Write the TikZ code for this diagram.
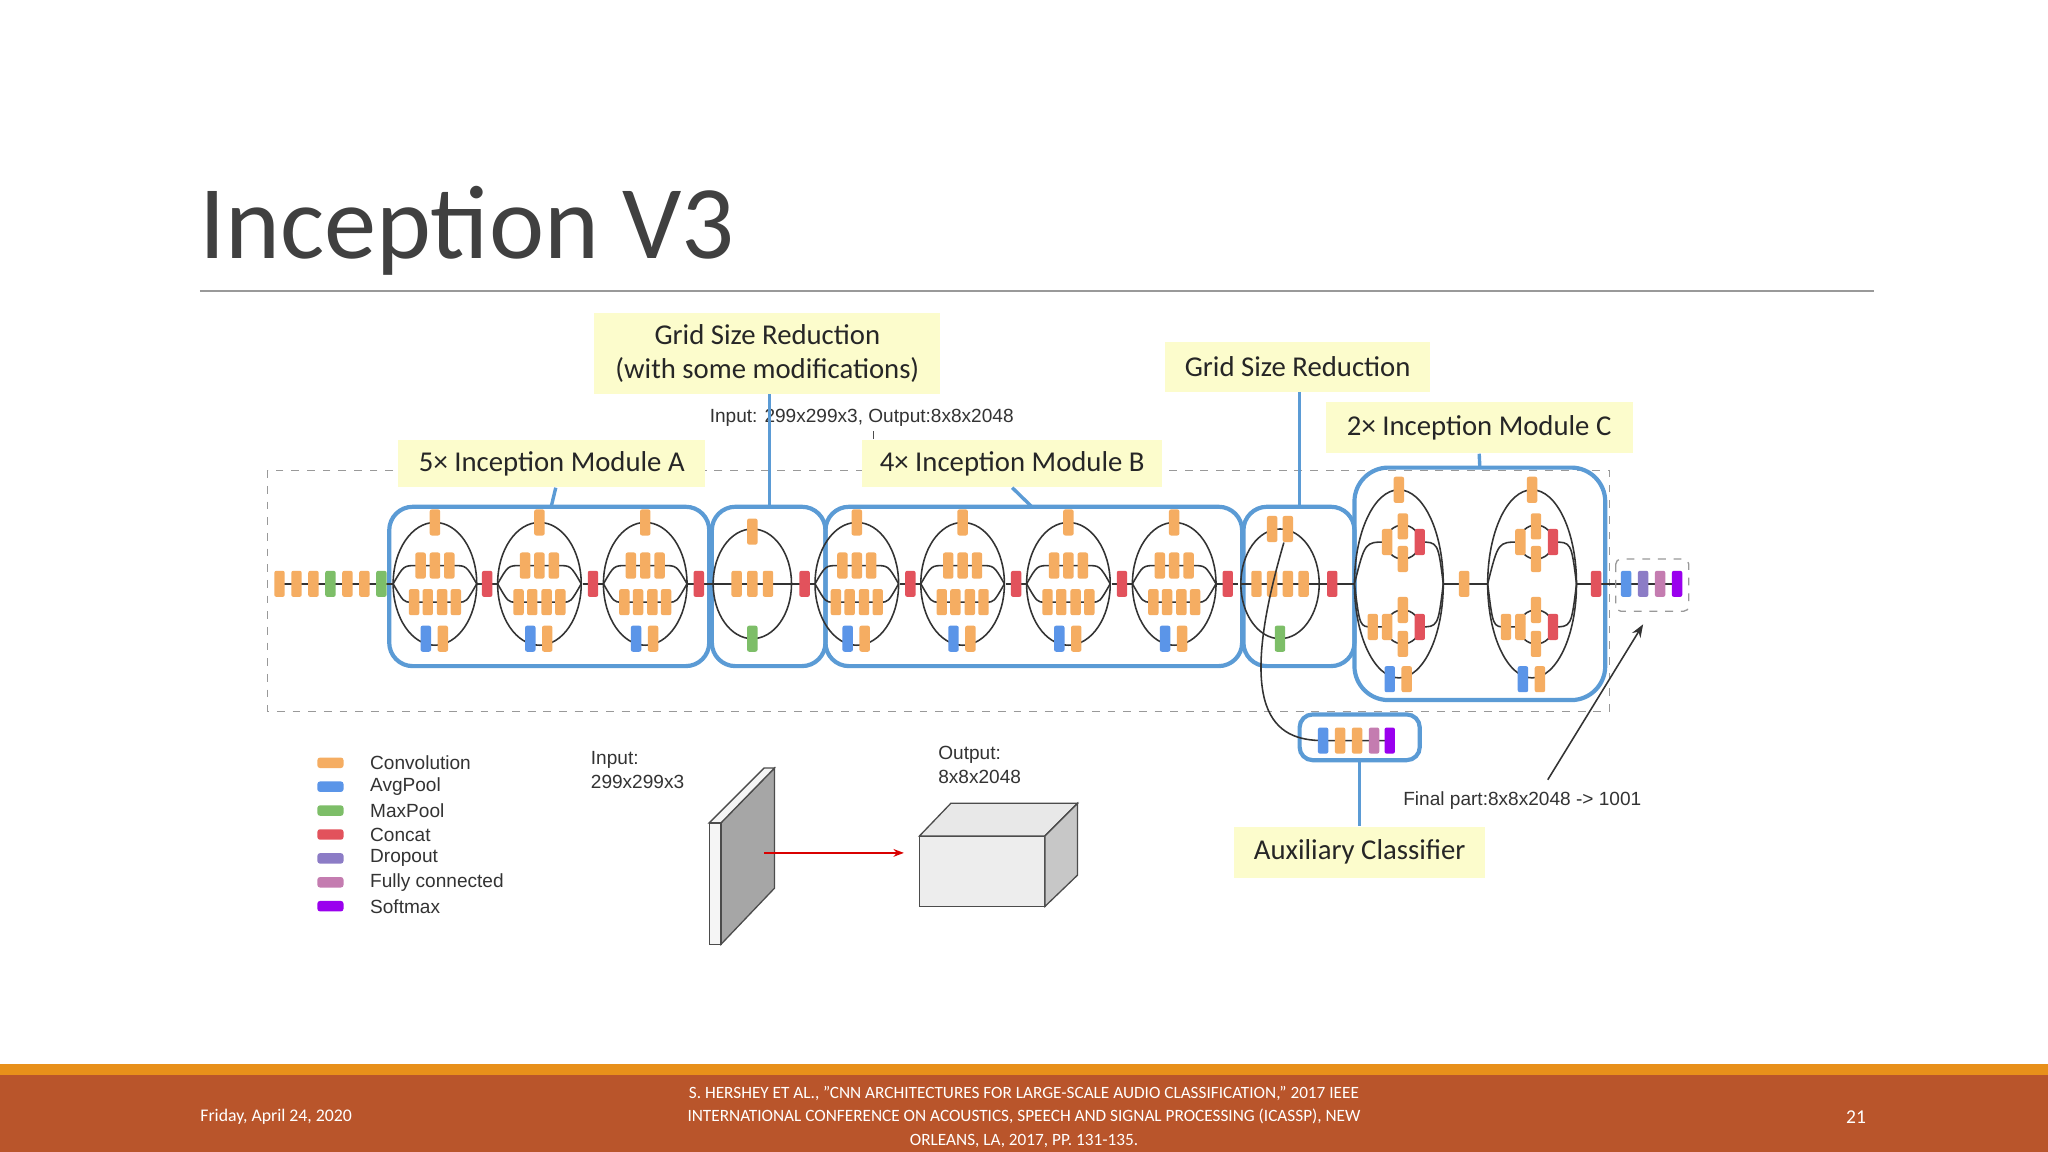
\documentclass[tikz,border=0pt]{standalone}
\usepackage{fontspec}
\setmainfont{Carlito}
\newfontfamily\arial{Liberation Sans}
\usetikzlibrary{arrows.meta}
\definecolor{cor}{HTML}{F5AD62}
\definecolor{cbl}{HTML}{5B95E8}
\definecolor{cgr}{HTML}{7DBE68}
\definecolor{crd}{HTML}{E2525C}
\definecolor{cdo}{HTML}{8C7CC6}
\definecolor{cfc}{HTML}{C47CB0}
\definecolor{csm}{HTML}{9A00EE}
\definecolor{mblue}{HTML}{5B9BD5}
\definecolor{ylab}{HTML}{FCFCCC}
\definecolor{ttl}{HTML}{404040}
\definecolor{fora}{HTML}{E8901A}
\definecolor{fred}{HTML}{B9552B}
\newcounter{bk}
\newcommand\B[3]{\stepcounter{bk}\node[blk,fill=#1] (b\arabic{bk}) at (#2,#3) {};}
\tikzset{
 blk/.style={minimum width=4pt,minimum height=10pt,inner sep=0pt,rounded corners=0.8pt,draw=none},
 wire/.style={draw=black!80,line width=0.6pt},
 mbox/.style={draw=mblue,line width=1.6pt,rounded corners=9pt},
 ylabel/.style={fill=ylab,inner sep=0pt,font=\fontsize{11}{13}\selectfont,align=center,text=black!85},
 conn/.style={draw=mblue,line width=1.3pt},
 small/.style={font=\arial\fontsize{7.3}{9}\selectfont,text=black!80,align=left,inner sep=0pt},
}
% Module A/B inception
\newcommand\ModA[1]{%
 \draw[wire] (#1,447) ellipse [x radius=16pt,y radius=23.5pt];
 \draw[wire] (#1-32,447) .. controls (#1-24,433) .. (#1-14,433) -- (#1+14,433) .. controls (#1+24,433) .. (#1+32,447);
 \draw[wire] (#1-32,447) .. controls (#1-24,461) .. (#1-18,461) -- (#1+18,461) .. controls (#1+24,461) .. (#1+32,447);
 \B{cor}{#1}{400}
 \B{cor}{#1-11}{433}\B{cor}{#1}{433}\B{cor}{#1+11}{433}
 \B{cor}{#1-16}{461}\B{cor}{#1-5.5}{461}\B{cor}{#1+5.5}{461}\B{cor}{#1+16}{461}
 \B{cbl}{#1-7}{489}\B{cor}{#1+6}{489}}
% Module C inception
\newcommand\ModC[1]{%
 \draw[wire] (#1,447) ellipse [x radius=17pt,y radius=36pt];
 \draw[wire] (#1+3,415) circle [radius=6.5pt];
 \draw[wire] (#1+3,480) circle [radius=6.5pt];
 \draw[wire] (#1-34,447) .. controls (#1-26,415) .. (#1-10,415);
 \draw[wire] (#1+16,415) .. controls (#1+30,415) .. (#1+34,447);
 \draw[wire] (#1-34,447) .. controls (#1-30,480) .. (#1-20,480) -- (#1-10,480);
 \draw[wire] (#1+16,480) .. controls (#1+30,480) .. (#1+34,447);
 \B{cor}{#1}{375}
 \B{cor}{#1+3}{403}\B{cor}{#1-9}{415}\B{cor}{#1+3}{428}\B{crd}{#1+16}{415}
 \B{cor}{#1+3}{467}\B{cor}{#1-9}{480}\B{cor}{#1-20}{480}\B{cor}{#1+3}{493}\B{crd}{#1+16}{480}
 \B{cbl}{#1-7}{520}\B{cor}{#1+6}{520}}
\begin{document}
\begin{tikzpicture}[x=0.5pt,y=-0.5pt]
\useasboundingbox (0,0) rectangle (1568,882);
\fill[white] (0,0) rectangle (1568,882);
% title
\node[anchor=base west,inner sep=0pt,text=ttl,font=\fontsize{40}{44}\selectfont] (title) at (152,198) {Inception V3};
\draw[black!40,line width=0.6pt] (153,223) -- (1435,223);
% footer
\fill[fora] (0,815) rectangle (1568,823);
\fill[fred] (0,823) rectangle (1568,882);
\node[anchor=west,inner sep=0pt,text=white,font=\fontsize{6.8}{8}\selectfont] (date) at (153,855) {Friday, April 24, 2020};
\node[inner sep=0pt,text=white,align=center,font=\fontsize{6.6}{9}\selectfont] (cite) at (784,855) {S. HERSHEY ET AL., "CNN ARCHITECTURES FOR LARGE-SCALE AUDIO CLASSIFICATION,” 2017 IEEE\\INTERNATIONAL CONFERENCE ON ACOUSTICS, SPEECH AND SIGNAL PROCESSING (ICASSP), NEW\\ORLEANS, LA, 2017, PP. 131-135.};
\node[inner sep=0pt,text=white,font=\fontsize{7.5}{9}\selectfont] (pg) at (1421,855) {21};
% dashed outer
\draw[black!40,dashed,line width=0.5pt] (205,360) rectangle (1232,545);
% labels
\node[ylabel,minimum width=132.5pt,minimum height=31pt] (lgsr1) at (587.5,271) {Grid Size Reduction\\(with some modifications)};
\node[ylabel,minimum width=101.5pt,minimum height=19pt] (lgsr2) at (993.5,281) {Grid Size Reduction};
\node[ylabel,minimum width=117.5pt,minimum height=18pt] (la) at (422.5,355) {5× Inception Module A};
\node[ylabel,minimum width=115pt,minimum height=18pt] (lb) at (775,355) {4× Inception Module B};
\node[ylabel,minimum width=117.5pt,minimum height=19.5pt] (lc) at (1132.5,327.5) {2× Inception Module C};
\node[ylabel,minimum width=96pt,minimum height=19.5pt] (laux) at (1041,652.5) {Auxiliary Classifier};
\node[small,anchor=west] (io) at (543,320) {Input: 299x299x3, Output:8x8x2048};
\draw[black!70,line width=0.5pt] (669,330) -- (669,336);
% module boxes
\draw[mbox] (298,388) rectangle (543,510);
\draw[mbox] (545,388) rectangle (632,510);
\draw[mbox] (632,388) rectangle (951,510);
\draw[mbox] (952,388) rectangle (1037,510);
\draw[mbox,rounded corners=13pt] (1037,358) rectangle (1229,536);
\draw[mbox,rounded corners=5pt] (995,547) rectangle (1087,582);
\coordinate (ca) at (422,388); \coordinate (cg1) at (589,388); \coordinate (cb) at (790,388);
\coordinate (cg2) at (995,388); \coordinate (cc) at (1133,358); \coordinate (caux) at (1041,582);
\draw[conn] (la.south) ++(3,0) -- (ca);
\draw[conn] (589,302) -- (cg1);
\draw[conn] (lb.south) -- (cb);
\draw[conn] (995,300) -- (cg2);
\draw[conn] (lc.south) -- (cc);
\draw[conn] (caux) -- (laux.north);
% main wire segments
\draw[wire] (213,447) -- (301,447);
\foreach \c in {373,454,535} {\draw[wire] (\c-8,447) -- (\c+8,447);}
\draw[wire] (535,447) -- (546,447);
\foreach \c in {697,778,859,940} {\draw[wire] (\c-8,447) -- (\c+8,447);}
\draw[wire] (606,447) -- (624,447);
\draw[wire] (1010,447) -- (1037,447);
\draw[wire] (1105,447) -- (1139,447);
\draw[wire] (1207,447) -- (1284,447);
% stem
\B{cor}{214}{447}\B{cor}{227}{447}\B{cor}{240}{447}\B{cgr}{253}{447}\B{cor}{266}{447}\B{cor}{279}{447}\B{cgr}{292}{447}
% module A
\ModA{333}\ModA{413}\ModA{494}
\B{crd}{373}{447}\B{crd}{454}{447}\B{crd}{535}{447}
% GSR1
\draw[wire] (576,447) ellipse [x radius=15pt,y radius=21pt];
\draw[wire] (546,447) -- (606,447);
\B{cor}{576}{407}\B{cor}{564}{447}\B{cor}{576}{447}\B{cor}{588}{447}\B{cgr}{576}{489}
\B{crd}{616}{447}
% module B
\ModA{656}\ModA{737}\ModA{818}\ModA{899}
\B{crd}{697}{447}\B{crd}{778}{447}\B{crd}{859}{447}\B{crd}{940}{447}
% GSR2
\draw[wire] (980,447) ellipse [x radius=15pt,y radius=21pt];
\draw[wire] (950,447) -- (1010,447);
\B{cor}{974}{405}\B{cor}{986}{405}
\B{cor}{962}{447}\B{cor}{974}{447}\B{cor}{986}{447}\B{cor}{998}{447}
\B{cgr}{980}{489}
\B{crd}{1020}{447}
% module C
\ModC{1071}\ModC{1173}
\B{cor}{1121}{447}
\B{crd}{1222}{447}
% final part
\draw[black!40,dashed,line width=0.5pt,rounded corners=2pt] (1237,428) rectangle (1293,468);
\B{cbl}{1245}{447}\B{cdo}{1258}{447}\B{cfc}{1271}{447}\B{csm}{1284}{447}
% auxiliary
\draw[wire] (b92) .. controls (945,545) and (975,567) .. (1013,567) -- (1064,567);
\B{cbl}{1013}{567}\B{cor}{1026}{567}\B{cor}{1039}{567}\B{cfc}{1052}{567}\B{csm}{1064}{567}
% final arrow
\coordinate (fa) at (1185,597); \coordinate (fb) at (1258,478);
\draw[black!80,line width=0.6pt,-{Stealth[length=5pt]}] (fa) -- (fb);
\node[small,anchor=west] (fp) at (1074,613) {Final part:8x8x2048 -> 1001};
% legend
\foreach \col/\txt [count=\i from 0] in {cor/Convolution,cbl/AvgPool,cgr/MaxPool,crd/Concat,cdo/Dropout,cfc/Fully connected,csm/Softmax}{
 \fill[\col,rounded corners=1pt] (243,580+18.3*\i) rectangle (263,588+18.3*\i);
 \node[small,anchor=west] (lg\i) at (283,584+18.3*\i) {\txt};
}
% 3D input/output
\node[small,anchor=north west,font=\arial\fontsize{7.3}{9}\selectfont] (inp) at (452,575) {Input:\\299x299x3};
\node[small,anchor=north west,font=\arial\fontsize{7.3}{9}\selectfont] (outp) at (718,571) {Output:\\8x8x2048};
\draw[black!70,line width=0.5pt,fill=black!35] (552,630) -- (593,588) -- (593,680) -- (552,723) -- cycle;
\draw[black!70,line width=0.5pt,fill=black!4] (543,630) -- (552,630) -- (552,723) -- (543,723) -- cycle;
\draw[black!70,line width=0.5pt,fill=black!4] (543,630) -- (585,588) -- (593,588) -- (552,630) -- cycle;
\draw[black!70,line width=0.5pt,fill=black!7] (704,640) -- (800,640) -- (800,694) -- (704,694) -- cycle;
\draw[black!70,line width=0.5pt,fill=black!9] (704,640) -- (728,615) -- (825,615) -- (800,640) -- cycle;
\draw[black!70,line width=0.5pt,fill=black!22] (800,640) -- (825,615) -- (825,670) -- (800,694) -- cycle;
\coordinate (ra) at (585,653); \coordinate (rb) at (692,653);
\draw[red!85!black,line width=0.6pt,-{Stealth[length=4pt]}] (ra) -- (rb);
\end{tikzpicture}
\end{document}
